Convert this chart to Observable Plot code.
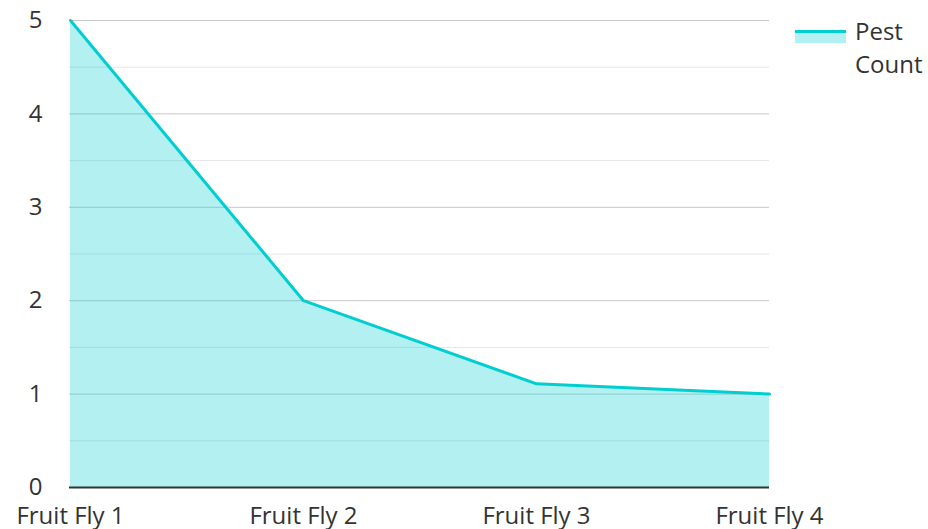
<!DOCTYPE html>
<html>
<head>
<meta charset="utf-8">
<script src="https://cdn.jsdelivr.net/npm/d3@7"></script>
<script src="https://cdn.jsdelivr.net/npm/@observablehq/plot@0.6"></script>
<style>
  html, body { margin: 0; padding: 0; background: #fff; }
  #wrap { position: relative; width: 928px; height: 529px; font-family: "Open Sans", sans-serif; }
  #wrap svg text { font-size: 24px !important; font-family: "Open Sans", sans-serif; }
  #legend { position: absolute; left: 795px; top: 14px; display: flex; align-items: flex-start; }
  #legend .sw { width: 51px; height: 13px; margin-top: 16px; background: rgba(0,206,209,0.3); border-top: 3px solid #00ced1; box-sizing: border-box; }
  #legend .lbl { margin-left: 9px; font-size: 24px; line-height: 33px; color: #333; }
</style>
</head>
<body>
<div id="wrap"></div>
<script>
const categories = ["Fruit Fly 1", "Fruit Fly 2", "Fruit Fly 3", "Fruit Fly 4"];
const pestCount = [5, 2, 1.11, 1];
const majorTicks = [0, 1, 2, 3, 4, 5];
const minorTicks = [0.5, 1.5, 2.5, 3.5, 4.5];
const seriesName = "Pest Count";

const data = categories.map((c, i) => ({category: c, value: pestCount[i]}));

const chart = Plot.plot({
  width: 928,
  height: 529,
  marginLeft: 69,
  marginRight: 159,
  marginTop: 20,
  marginBottom: 42,
  style: {fontFamily: "Open Sans, sans-serif", fontSize: "24px", color: "#333", background: "#fff"},
  x: {type: "point", domain: categories, padding: 0, label: null},
  y: {domain: [0, 5], label: null},
  marks: [
    Plot.ruleY(minorTicks, {stroke: "#e6e6e6", strokeWidth: 1}),
    Plot.ruleY(majorTicks.filter(d => d > 0), {stroke: "#c8c8c8", strokeWidth: 1}),
    Plot.areaY(data, {x: "category", y: "value", fill: "#00ced1", fillOpacity: 0.3}),
    Plot.lineY(data, {x: "category", y: "value", stroke: "#00ced1", strokeWidth: 3}),
    Plot.ruleY([0], {stroke: "#333", strokeWidth: 2}),
    Plot.axisY(majorTicks, {tickSize: 0, tickPadding: 27, tickFormat: d3.format("d"), fontSize: 24, fill: "#333", label: null}),
    Plot.axisX({tickSize: 0, tickPadding: 19, fontSize: 24, fill: "#333", label: null})
  ]
});

const wrap = document.getElementById("wrap");
wrap.appendChild(chart);
const legend = document.createElement("div");
legend.id = "legend";
const parts = seriesName.split(" ");
legend.innerHTML = `<div class="sw"></div><div class="lbl">${parts[0]}<br>${parts[1]}</div>`;
wrap.appendChild(legend);
</script>
</body>
</html>
